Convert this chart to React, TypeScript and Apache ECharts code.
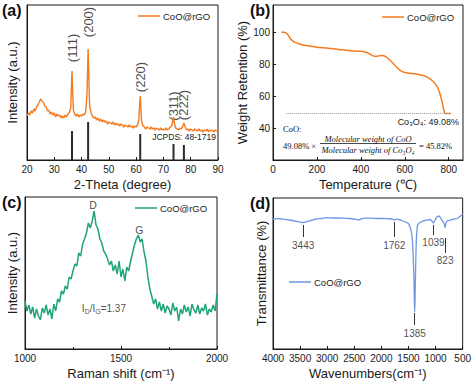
import React, { useEffect, useRef } from 'react';
import * as echarts from 'echarts';

const ORANGE = '#f47b20';
const GREEN = '#1fa37a';
const BLUE = '#7196e6';
const INK = '#1a1a1a';
const SANS = "'Liberation Sans', Arial, sans-serif";
const SERIF = "'Liberation Serif', 'Times New Roman', serif";

// (a) XRD pattern: [2-theta, intensity]
const xrdPoints: [number, number][] = [
  [20, 44], [20.5, 47], [21, 45], [21.5, 49], [22, 47], [22.5, 51], [23, 49], [23.5, 53], [24, 55], [24.5, 58],
  [25, 61], [25.5, 59], [26, 58], [26.5, 54], [27, 53], [27.5, 49], [28, 50], [28.5, 46], [29, 48], [29.5, 45],
  [30, 47], [30.5, 43], [31, 46], [31.5, 44], [32, 45], [32.5, 42], [33, 44], [33.5, 42], [34, 45], [34.5, 43],
  [35, 46], [35.5, 47], [36, 52], [36.25, 70], [36.5, 89], [36.75, 68], [37, 50], [37.5, 46], [38, 44], [38.5, 46],
  [39, 43], [39.5, 45], [40, 44], [40.5, 46], [41, 45], [41.5, 48], [42, 66], [42.25, 95], [42.4, 111], [42.6, 92],
  [42.85, 62], [43, 53], [43.5, 47], [44, 44], [44.5, 42], [45, 43], [45.5, 40], [46, 42], [46.5, 39], [47, 41],
  [47.5, 38], [48, 40], [48.5, 38], [49, 39], [49.5, 36], [50, 38], [50.5, 37], [51, 36], [51.5, 38], [52, 35],
  [52.5, 37], [53, 35], [53.5, 36], [54, 34], [54.5, 36], [55, 35], [55.5, 33], [56, 35], [56.5, 34], [57, 33],
  [57.5, 35], [58, 33], [58.5, 34], [59, 32], [59.5, 34], [60, 33], [60.5, 35], [61, 40], [61.25, 54], [61.5, 64],
  [61.75, 52], [62, 39], [62.5, 34], [63, 33], [63.5, 31], [64, 33], [64.5, 32], [65, 31], [65.5, 33], [66, 31],
  [66.5, 32], [67, 30], [67.5, 32], [68, 31], [68.5, 30], [69, 32], [69.5, 30], [70, 31], [70.5, 30], [71, 32],
  [71.5, 30], [72, 31], [72.5, 33], [73, 34], [73.5, 40], [73.7, 43], [74, 37], [74.5, 32], [75, 31], [75.5, 30],
  [76, 32], [76.5, 31], [77, 33], [77.5, 37], [78, 33], [78.5, 30], [79, 31], [79.5, 29], [80, 31], [80.5, 30],
  [81, 29], [81.5, 31], [82, 30], [82.5, 29], [83, 31], [83.5, 29], [84, 30], [84.5, 28], [85, 30], [85.5, 29],
  [86, 31], [86.5, 28], [87, 30], [87.5, 29], [88, 30], [88.5, 28], [89, 30], [89.5, 29], [90, 30],
];
// JCPDS 48-1719 reference sticks
const jcpdsTheta = [36.5, 42.4, 61.5, 73.7, 77.5];
const jcpdsHeight = [29, 38, 26, 16, 15];
const hklLabels = ['(111)', '(200)', '(220)', '(311)', '(222)'];
const hklLabelY = [112, 138, 83, 54, 55];

// (b) TGA: [temperature, weight retention %]
const tgaPoints: [number, number][] = [
  [38, 100], [50, 100], [58, 99.6], [65, 98.8], [75, 96.8], [85, 95], [100, 93.6], [120, 92.6], [150, 91.6],
  [200, 90.6], [250, 90], [300, 89.2], [350, 88.4], [400, 88], [420, 87.6], [440, 86.4], [460, 85], [475, 84.9],
  [490, 85.4], [505, 85.2], [520, 84], [540, 81.5], [560, 78.5], [580, 76], [600, 74.8], [620, 74.3], [650, 73.8],
  [680, 73], [700, 72], [720, 70.2], [740, 67.5], [755, 63.5], [765, 59], [772, 55], [778, 51], [782, 49.3],
  [790, 49.08], [810, 49.08],
];
const co3o4Residue = 49.08;

// (c) Raman: [shift, intensity]
const ramanPoints: [number, number][] = [
  [1000, 48], [1010, 38], [1020, 44], [1030, 35], [1040, 42], [1050, 31], [1060, 40], [1070, 33], [1080, 29], [1090, 41],
  [1100, 36], [1110, 44], [1120, 34], [1130, 40], [1140, 30], [1150, 45], [1160, 38], [1170, 50], [1180, 47], [1190, 58],
  [1200, 55], [1210, 63], [1220, 60], [1230, 72], [1240, 70], [1250, 78], [1260, 85], [1270, 83], [1280, 96], [1290, 93],
  [1300, 105], [1310, 110], [1320, 116], [1330, 126], [1340, 121], [1350, 128], [1360, 138], [1370, 124], [1380, 120], [1390, 110],
  [1400, 106], [1410, 98], [1420, 95], [1430, 90], [1440, 84], [1450, 88], [1460, 78], [1470, 84], [1480, 75], [1490, 88],
  [1500, 72], [1510, 80], [1520, 68], [1530, 82], [1540, 78], [1550, 88], [1560, 96], [1570, 104], [1580, 110], [1590, 114],
  [1600, 107], [1610, 110], [1620, 97], [1630, 88], [1640, 72], [1650, 60], [1660, 53], [1670, 45], [1680, 50], [1690, 40],
  [1700, 47], [1710, 38], [1720, 45], [1730, 36], [1740, 43], [1750, 40], [1760, 34], [1770, 46], [1780, 38], [1790, 42],
  [1800, 28], [1810, 40], [1820, 35], [1830, 44], [1840, 37], [1850, 42], [1860, 33], [1870, 45], [1880, 39], [1890, 36],
  [1900, 44], [1910, 35], [1920, 41], [1930, 38], [1940, 45], [1950, 34], [1960, 40], [1970, 37], [1980, 44], [1990, 38],
  [2000, 55],
];
const ramanBandNames = ['D', 'G'];
const ramanBandPos: [number, number][] = [[1355, 144], [1595, 119]];

// (d) FTIR: [wavenumber, transmittance]
const ftirPoints: [number, number][] = [
  [4000, 130], [3900, 130.5], [3800, 129.8], [3700, 129], [3600, 128], [3500, 126.8], [3443, 126.5], [3400, 127],
  [3300, 128.5], [3200, 130], [3100, 130.5], [3000, 131.3], [2900, 131], [2800, 131], [2700, 130.8], [2600, 130.5],
  [2500, 130], [2420, 129], [2380, 130], [2300, 130.8], [2200, 130.8], [2100, 130.5], [2000, 130.5], [1900, 130.3],
  [1800, 130], [1762, 129], [1720, 129.8], [1650, 129], [1600, 128], [1550, 127], [1500, 125.5], [1470, 122],
  [1450, 118], [1430, 110], [1415, 95], [1400, 72], [1390, 45], [1385, 37], [1380, 45], [1370, 75], [1360, 100],
  [1345, 118], [1330, 124], [1300, 126], [1250, 127.5], [1200, 128.5], [1150, 129], [1100, 129.5], [1070, 128],
  [1039, 126], [1010, 129], [980, 131.5], [950, 133], [920, 132], [890, 129.5], [860, 127], [840, 125], [823, 121.5],
  [810, 126], [790, 128], [750, 128.5], [700, 129.5], [650, 130], [600, 130.5], [560, 132], [530, 133.5], [500, 134.5],
];
const ftirPeakNames = ['3443', '1762', '1039', '823', '1385'];
const ftirPeakX = [3443, 1762, 1039, 823, 1385];
const ftirLeaderTop = [124, 127, 124, 111, 36];
const ftirLeaderBottom = [112, 112, 114, 96, 24];
const ftirLabelY = [104, 104, 107, 89, 16];

const plain = (v: number) => String(v);
const tickLabel = { color: INK, fontSize: 10, fontFamily: SANS, margin: 4, formatter: plain };
const axisName = { color: INK, fontSize: 13, fontFamily: SANS };
const axisLine = { show: true, lineStyle: { color: INK, width: 1 } };
const inTick = { show: true, inside: true, length: 3, lineStyle: { color: INK } };
const minorIn = { show: true, splitNumber: 2, length: 2, lineStyle: { color: INK } };

function legendItem(x: number, y: number, color: string) {
  return [
    { type: 'line', shape: { x1: x, y1: y, x2: x + 22, y2: y }, style: { stroke: color, lineWidth: 1.5 } },
    {
      type: 'text', x: x + 25, y,
      style: { text: 'CoO@rGO', fill: INK, font: `9.5px ${SANS}`, textVerticalAlign: 'middle', verticalAlign: 'middle' },
    },
  ];
}

function panelLabel(x: number, y: number, t: string) {
  return { type: 'text', x, y, style: { text: t, fill: '#111', font: `bold 16px ${SANS}` } };
}

function serifText(x: number, y: number, t: string, align: string, italic = false) {
  return {
    type: 'text', x, y,
    style: {
      text: t, fill: '#111', font: `${italic ? 'italic ' : ''}8.5px ${SERIF}`,
      textAlign: align, align, textVerticalAlign: 'middle', verticalAlign: 'middle',
    },
  };
}

export default function App() {
  const ref = useRef<HTMLDivElement>(null);
  useEffect(() => {
    const chart = echarts.init(ref.current!, null, { renderer: 'svg' });
    const option: any = {
      animation: false,
      backgroundColor: '#fff',
      grid: [
        { left: 27, top: 5, width: 191, height: 155, show: true, borderColor: INK, borderWidth: 1 },
        { left: 273, top: 5, width: 190, height: 155, show: true, borderColor: INK, borderWidth: 1 },
        { left: 25, top: 197, width: 192, height: 152, show: true, borderColor: INK, borderWidth: 1 },
        { left: 273, top: 198, width: 190, height: 151, show: true, borderColor: INK, borderWidth: 1 },
      ],
      xAxis: [
        {
          type: 'value', gridIndex: 0, min: 20, max: 90, interval: 10,
          name: '2-Theta (degree)', nameLocation: 'middle', nameGap: 18, nameTextStyle: axisName,
          axisLine, axisTick: inTick, axisLabel: tickLabel, splitLine: { show: false },
        },
        {
          type: 'value', gridIndex: 1, min: 0, max: 865, interval: 200,
          name: 'Temperature (℃)', nameLocation: 'middle', nameGap: 18, nameTextStyle: axisName,
          axisLine, axisTick: inTick, axisLabel: { ...tickLabel, showMaxLabel: false }, splitLine: { show: false },
        },
        {
          type: 'value', gridIndex: 2, min: 1000, max: 2000, interval: 500,
          name: 'Raman shift (cm⁻¹)', nameLocation: 'middle', nameGap: 18, nameTextStyle: axisName,
          axisLine, axisTick: inTick, minorTick: minorIn, axisLabel: tickLabel, splitLine: { show: false },
        },
        {
          type: 'value', gridIndex: 3, min: 500, max: 4000, interval: 500, inverse: true,
          name: 'Wavenumbers(cm⁻¹)', nameLocation: 'middle', nameGap: 18, nameTextStyle: axisName,
          axisLine, axisTick: inTick, axisLabel: tickLabel, splitLine: { show: false },
        },
      ],
      yAxis: [
        {
          type: 'value', gridIndex: 0, min: 0, max: 155,
          name: 'Intensity (a.u.)', nameLocation: 'middle', nameGap: 8, nameTextStyle: axisName,
          axisLine, axisTick: { show: false }, axisLabel: { show: false }, splitLine: { show: false },
        },
        {
          type: 'value', gridIndex: 1, min: 20, max: 117, interval: 20,
          name: 'Weight Retention (%)', nameLocation: 'middle', nameGap: 22, nameTextStyle: axisName,
          axisLine, axisTick: inTick,
          axisLabel: {
            ...tickLabel, margin: 3, showMaxLabel: false, showMinLabel: false,
            formatter: (v: number) => (v === 20 || v > 100 ? '' : String(v)),
          },
          splitLine: { show: false },
        },
        {
          type: 'value', gridIndex: 2, min: 0, max: 152,
          name: 'Intensity (a.u.)', nameLocation: 'middle', nameGap: 6, nameTextStyle: axisName,
          axisLine, axisTick: { show: false }, axisLabel: { show: false }, splitLine: { show: false },
        },
        {
          type: 'value', gridIndex: 3, min: 0, max: 151,
          name: 'Transmittance (%)', nameLocation: 'middle', nameGap: 5, nameTextStyle: axisName,
          axisLine, axisTick: { show: false }, axisLabel: { show: false }, splitLine: { show: false },
        },
      ],
      series: [
        {
          type: 'line', xAxisIndex: 0, yAxisIndex: 0, data: xrdPoints, showSymbol: false,
          lineStyle: { color: ORANGE, width: 1.4 }, itemStyle: { color: ORANGE },
        },
        {
          type: 'bar', xAxisIndex: 0, yAxisIndex: 0, barWidth: 2,
          data: jcpdsTheta.map((t, i) => [t, jcpdsHeight[i]]),
          itemStyle: { color: '#2b2b2b' },
        },
        {
          type: 'scatter', xAxisIndex: 0, yAxisIndex: 0, symbolSize: 0,
          data: hklLabels.map((n, i) => ({ name: n, value: [jcpdsTheta[i], hklLabelY[i]] })),
          label: {
            show: true, position: 'inside', rotate: 90, formatter: '{b}',
            color: INK, fontSize: 13, fontFamily: SANS,
          },
        },
        {
          type: 'line', xAxisIndex: 1, yAxisIndex: 1, data: tgaPoints, showSymbol: false, smooth: 0.3,
          lineStyle: { color: ORANGE, width: 1.5 }, itemStyle: { color: ORANGE },
          markLine: {
            silent: true, symbol: 'none', label: { show: false },
            lineStyle: { color: '#999', type: 'dotted', width: 1 },
            data: [[{ coord: [60, co3o4Residue] }, { coord: [805, co3o4Residue] }]],
          },
        },
        {
          type: 'line', xAxisIndex: 2, yAxisIndex: 2, data: ramanPoints, showSymbol: false,
          lineStyle: { color: GREEN, width: 1.5 }, itemStyle: { color: GREEN },
        },
        {
          type: 'scatter', xAxisIndex: 2, yAxisIndex: 2, symbolSize: 0,
          data: [
            ...ramanBandNames.map((n, i) => ({ name: n, value: ramanBandPos[i] })),
            { name: 'ratio', value: [1411, 41] },
          ],
          label: {
            show: true, position: 'inside', color: INK, fontSize: 10.5, fontFamily: SANS,
            formatter: (p: any) => (p.name === 'ratio' ? '{n|I}{s|D}{n|/I}{s|G}{n|=1.37}' : p.name),
            rich: {
              n: { fontSize: 10, fontFamily: SANS, color: INK, lineHeight: 13 },
              s: { fontSize: 7, fontFamily: SANS, color: INK, lineHeight: 7, verticalAlign: 'bottom' },
            },
          },
        },
        {
          type: 'line', xAxisIndex: 3, yAxisIndex: 3, data: ftirPoints, showSymbol: false, smooth: 0.2,
          lineStyle: { color: BLUE, width: 1.3 }, itemStyle: { color: BLUE },
          markLine: {
            silent: true, symbol: 'none', label: { show: false },
            lineStyle: { color: '#333', type: 'solid', width: 1 },
            data: ftirPeakX.map((x, i) => [{ coord: [x, ftirLeaderTop[i]] }, { coord: [x, ftirLeaderBottom[i]] }]),
          },
        },
        {
          type: 'scatter', xAxisIndex: 3, yAxisIndex: 3, symbolSize: 0,
          data: ftirPeakNames.map((n, i) => ({ name: n, value: [ftirPeakX[i], ftirLabelY[i]] })),
          label: {
            show: true, position: 'inside', formatter: '{b}', color: INK, fontSize: 10, fontFamily: SANS,
          },
        },
      ],
      graphic: [
        panelLabel(2, 2, '(a)'),
        panelLabel(250, 2, '(b)'),
        panelLabel(2, 194, '(c)'),
        panelLabel(250, 195, '(d)'),
        ...legendItem(138, 16, ORANGE),
        ...legendItem(382, 17, ORANGE),
        ...legendItem(135, 208, GREEN),
        ...legendItem(289, 282, BLUE),
        {
          type: 'text', x: 216, y: 137,
          style: { text: 'JCPDS: 48-1719', fill: INK, font: `8.5px ${SANS}`, textAlign: 'right', align: 'right', textVerticalAlign: 'middle', verticalAlign: 'middle' },
        },
        {
          type: 'text', x: 459, y: 122,
          style: { text: 'Co₃O₄: 49.08%', fill: INK, font: `9px ${SANS}`, textAlign: 'right', align: 'right', textVerticalAlign: 'middle', verticalAlign: 'middle' },
        },
        serifText(283, 129, 'CoO:', 'left'),
        serifText(283, 146, '49.08% ×', 'left'),
        serifText(368, 138.5, 'Molecular weight of CoO', 'center', true),
        { type: 'line', shape: { x1: 320, y1: 143.5, x2: 416, y2: 143.5 }, style: { stroke: INK, lineWidth: 0.8 } },
        serifText(368, 150, 'Molecular weight of Co₃O₄', 'center', true),
        serifText(419, 146, '= 45.82%', 'left'),
      ],
    };
    chart.setOption(option);
    return () => chart.dispose();
  }, []);
  return (
    <div
      ref={ref}
      style={{ position: 'fixed', left: 0, top: 0, width: 474, height: 383, background: '#fff' }}
    />
  );
}
